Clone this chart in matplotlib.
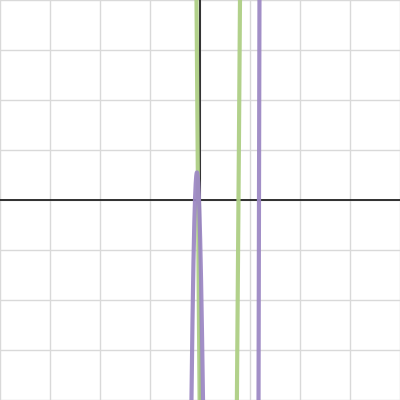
import numpy as np
import matplotlib.pyplot as plt

# polynomial roots and leading coefficients
green_roots = [-0.04, 0.77]
green_scale = 160.0
purple_roots = [-0.10, -0.02, 1.18]
purple_scale = 278.0

x_lim = (-4, 4)
y_lim = (-4, 4)

fig = plt.figure(figsize=(4, 4), dpi=100)
ax = fig.add_axes([0, 0, 1, 1])

xs = np.linspace(x_lim[0], x_lim[1], 40001)
green = green_scale * np.prod([xs - r for r in green_roots], axis=0)
purple = purple_scale * np.prod([xs - r for r in purple_roots], axis=0)

for v in range(-4, 5):
    ax.axvline(v, color="#d9d9d9", lw=1, zorder=0)
    ax.axhline(v, color="#d9d9d9", lw=1, zorder=0)
ax.axvline(0, color="#222222", lw=1.3, zorder=1)
ax.axhline(0, color="#222222", lw=1.3, zorder=1)

ax.plot(xs, green, color="#aecf85", lw=3, alpha=0.95, zorder=2)
ax.plot(xs, purple, color="#9d89c4", lw=3, alpha=0.95, zorder=3)

ax.set_xlim(*x_lim)
ax.set_ylim(*y_lim)
ax.axis("off")
fig.savefig("out.png", dpi=100, facecolor="white")
